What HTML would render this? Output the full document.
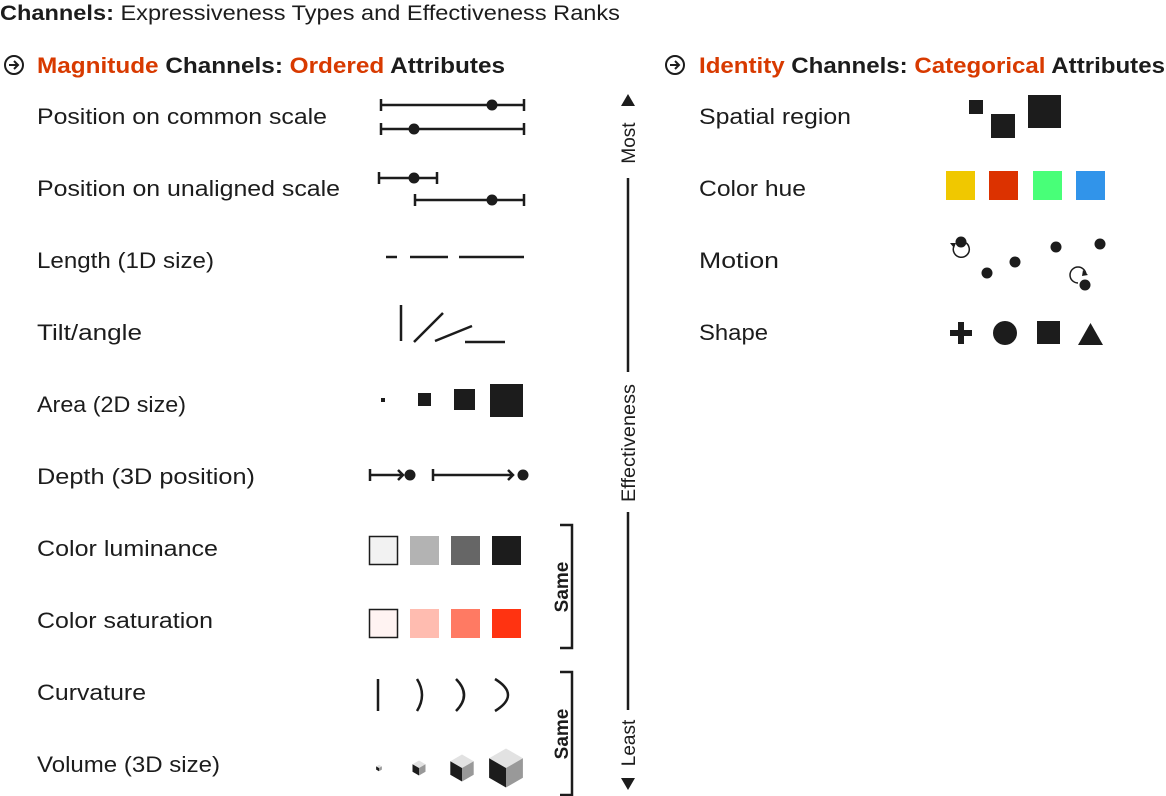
<!DOCTYPE html>
<html><head><meta charset="utf-8"><style>
html,body{margin:0;padding:0;background:#fff}
svg{display:block}
text{font-family:"Liberation Sans",sans-serif;fill:#1c1c1c}
</style></head><body>
<svg width="1166" height="796" viewBox="0 0 1166 796" xmlns="http://www.w3.org/2000/svg">
<text x="0" y="20" font-size="21" textLength="620" lengthAdjust="spacingAndGlyphs"><tspan font-weight="bold">Channels:</tspan> Expressiveness Types and Effectiveness Ranks</text>
<g stroke="#1c1c1c" stroke-width="2" fill="none">
<circle cx="14" cy="65" r="9"/><path d="M9 65h9M14 61l4 4-4 4"/>
<circle cx="675" cy="65" r="9"/><path d="M670 65h9M675 61l4 4-4 4"/>
</g>
<text x="37" y="73" font-size="22" font-weight="bold" textLength="468" lengthAdjust="spacingAndGlyphs"><tspan fill="#d83a00">Magnitude</tspan> Channels: <tspan fill="#d83a00">Ordered</tspan> Attributes</text>
<text x="699" y="73" font-size="22" font-weight="bold" textLength="466" lengthAdjust="spacingAndGlyphs"><tspan fill="#d83a00">Identity</tspan> Channels: <tspan fill="#d83a00">Categorical</tspan> Attributes</text>
<g font-size="22" lengthAdjust="spacingAndGlyphs">
<text x="37" y="124" textLength="290" lengthAdjust="spacingAndGlyphs">Position on common scale</text>
<text x="37" y="196" textLength="303" lengthAdjust="spacingAndGlyphs">Position on unaligned scale</text>
<text x="37" y="268" textLength="177" lengthAdjust="spacingAndGlyphs">Length (1D size)</text>
<text x="37" y="340" textLength="105" lengthAdjust="spacingAndGlyphs">Tilt/angle</text>
<text x="37" y="412" textLength="149" lengthAdjust="spacingAndGlyphs">Area (2D size)</text>
<text x="37" y="484" textLength="218" lengthAdjust="spacingAndGlyphs">Depth (3D position)</text>
<text x="37" y="556" textLength="181" lengthAdjust="spacingAndGlyphs">Color luminance</text>
<text x="37" y="628" textLength="176" lengthAdjust="spacingAndGlyphs">Color saturation</text>
<text x="37" y="700" textLength="109" lengthAdjust="spacingAndGlyphs">Curvature</text>
<text x="37" y="772" textLength="183" lengthAdjust="spacingAndGlyphs">Volume (3D size)</text>
<text x="699" y="124" textLength="152" lengthAdjust="spacingAndGlyphs">Spatial region</text>
<text x="699" y="196" textLength="107" lengthAdjust="spacingAndGlyphs">Color hue</text>
<text x="699" y="268" textLength="80" lengthAdjust="spacingAndGlyphs">Motion</text>
<text x="699" y="340" textLength="69" lengthAdjust="spacingAndGlyphs">Shape</text>
</g>
<g stroke="#1c1c1c" stroke-width="2.5" fill="none">
<path d="M381 105h143M381 99v12M524 99v12"/>
<path d="M381 129h143M381 123v12M524 123v12"/>
<path d="M379 178h58M379 172v12M437 172v12"/>
<path d="M415 200h109M415 194v12M524 194v12"/>
<path d="M386 257h11M410 257h38M459 257h65"/>
<path d="M401 305v36M414 342l29-29M435 341l37-15M465 342h40"/>
<path d="M370 475h33M370 469v12M398 470l5 5-5 5"/>
<path d="M433 475h80M433 469v12M508 470l5 5-5 5"/>
<path d="M378 679v32"/>
<path d="M417 679q10 16 0 32"/>
<path d="M456 679q16 16 0 32"/>
<path d="M495 679q26 16 0 32"/>
<path d="M560 525h12v123h-12M560 672h12v123h-12"/>
</g>
<g fill="#1c1c1c">
<circle cx="492" cy="105" r="5.5"/><circle cx="414" cy="129" r="5.5"/>
<circle cx="414" cy="178" r="5.5"/><circle cx="492" cy="200" r="5.5"/>
<rect x="381" y="398" width="4" height="4"/><rect x="418" y="393" width="13" height="13"/>
<rect x="454" y="389" width="21" height="21"/><rect x="490" y="384" width="33" height="33"/>
<circle cx="410" cy="475" r="5.5"/><circle cx="523" cy="475" r="5.5"/>
</g>
<rect x="369.5" y="536.5" width="28" height="28" fill="#f2f2f2" stroke="#1c1c1c" stroke-width="1.5"/>
<rect x="410" y="536" width="29" height="29" fill="#b3b3b3"/>
<rect x="451" y="536" width="29" height="29" fill="#666"/>
<rect x="492" y="536" width="29" height="29" fill="#1c1c1c"/>
<rect x="369.5" y="609.5" width="28" height="28" fill="#fff3f2" stroke="#1c1c1c" stroke-width="1.5"/>
<rect x="410" y="609" width="29" height="29" fill="#ffbcb0"/>
<rect x="451" y="609" width="29" height="29" fill="#ff7a63"/>
<rect x="492" y="609" width="29" height="29" fill="#ff3311"/>
<g>
<g transform="translate(379,768) scale(0.22)"><path d="M0-15L13-7.5 0 0-13-7.5Z" fill="#e2e2e2"/><path d="M-13-7.5L0 0V15L-13 7.5Z" fill="#1c1c1c"/><path d="M13-7.5L0 0V15L13 7.5Z" fill="#999"/></g>
<g transform="translate(419,768) scale(0.5)"><path d="M0-15L13-7.5 0 0-13-7.5Z" fill="#e2e2e2"/><path d="M-13-7.5L0 0V15L-13 7.5Z" fill="#1c1c1c"/><path d="M13-7.5L0 0V15L13 7.5Z" fill="#999"/></g>
<g transform="translate(462,768) scale(0.9)"><path d="M0-15L13-7.5 0 0-13-7.5Z" fill="#e2e2e2"/><path d="M-13-7.5L0 0V15L-13 7.5Z" fill="#1c1c1c"/><path d="M13-7.5L0 0V15L13 7.5Z" fill="#999"/></g>
<g transform="translate(506,768) scale(1.3)"><path d="M0-15L13-7.5 0 0-13-7.5Z" fill="#e2e2e2"/><path d="M-13-7.5L0 0V15L-13 7.5Z" fill="#1c1c1c"/><path d="M13-7.5L0 0V15L13 7.5Z" fill="#999"/></g>
</g>
<text transform="translate(568,587) rotate(-90)" font-size="19" font-weight="bold" text-anchor="middle">Same</text>
<text transform="translate(568,734) rotate(-90)" font-size="19" font-weight="bold" text-anchor="middle">Same</text>
<path d="M628 178V372M628 512V710" stroke="#1c1c1c" stroke-width="2.5"/>
<path d="M621 106h14l-7-12Z M621 778h14l-7 12Z" fill="#1c1c1c"/>
<text transform="translate(635,143) rotate(-90)" font-size="19" text-anchor="middle">Most</text>
<text transform="translate(635,443) rotate(-90)" font-size="19" text-anchor="middle" textLength="118" lengthAdjust="spacingAndGlyphs">Effectiveness</text>
<text transform="translate(635,743) rotate(-90)" font-size="19" text-anchor="middle">Least</text>
<g fill="#1c1c1c">
<rect x="969" y="100" width="14" height="14"/><rect x="991" y="114" width="24" height="24"/><rect x="1028" y="95" width="33" height="33"/>
</g>
<rect x="946" y="171" width="29" height="29" fill="#f0c800"/>
<rect x="989" y="171" width="29" height="29" fill="#dc3200"/>
<rect x="1033" y="171" width="29" height="29" fill="#48ff78"/>
<rect x="1076" y="171" width="29" height="29" fill="#3194ea"/>
<g fill="#1c1c1c">
<circle cx="961" cy="242" r="5.5"/><circle cx="987" cy="273" r="5.5"/><circle cx="1015" cy="262" r="5.5"/>
<circle cx="1056" cy="247" r="5.5"/><circle cx="1100" cy="244" r="5.5"/><circle cx="1085" cy="285" r="5.5"/>
</g>
<g stroke="#1c1c1c" stroke-width="1.5" fill="none">
<path d="M954 246a8 8 0 1 0 4-4"/><path d="M1078 283a8 8 0 1 1 8-8"/>
</g>
<path d="M950 243l6 0-2 5Z M1083 270l5 5-6 1Z" fill="#1c1c1c"/>
<g fill="#1c1c1c">
<path d="M958 322h6v8h8v6h-8v8h-6v-8h-8v-6h8Z"/>
<circle cx="1005" cy="333" r="12"/>
<rect x="1037" y="321" width="23" height="23"/>
<path d="M1078 345h25l-12.5-22Z"/>
</g>
</svg>
</body></html>
